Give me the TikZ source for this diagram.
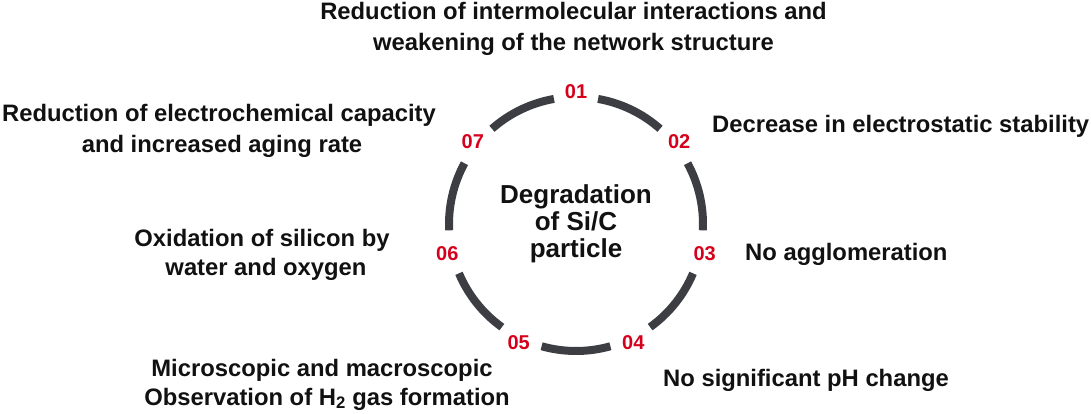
\documentclass[tikz,border=0pt]{standalone}
\usepackage{fontspec}
\setmainfont{Liberation Sans}
\definecolor{ringgray}{HTML}{3D3E43}
\definecolor{numred}{HTML}{D6001C}
\definecolor{txt}{HTML}{111111}
\tikzset{
  ring/.style={draw=ringgray, line width=8pt, line cap=butt},
  lbl/.style={inner sep=0pt, text=txt, font=\fontsize{23.8}{29}\selectfont\bfseries},
  ctr/.style={inner sep=0pt, text=txt, font=\fontsize{26}{27}\selectfont\bfseries, anchor=base},
  num/.style={inner sep=0pt, text=numred, font=\fontsize{20}{22}\selectfont\bfseries}
}
\begin{document}
\begin{tikzpicture}[x=1pt,y=-1pt]
\useasboundingbox[fill=white] (0,0) rectangle (1091,414);
\coordinate (c) at (576,224);
% ring segments
\foreach \i in {0,...,6}{
  \pgfmathsetmacro{\a}{-90+\i*360/7+10}
  \pgfmathsetmacro{\b}{-90+(\i+1)*360/7-10}
  \draw[ring] (c) ++(\a:127) arc[start angle=\a, end angle=\b, radius=127];
}
% numbers
\foreach \i in {1,...,7}{
  \pgfmathsetmacro{\t}{-90+(\i-1)*360/7}
  \node[num] (n\i) at ([shift={(\t:132)}]c) {0\i};
}
% center text
\node[ctr] (c1) at (576,203) {Degradation};
\node[ctr] (c2) at (576,230) {of Si/C};
\node[ctr] (c3) at (576,257) {particle};
% labels
\node[lbl, anchor=base] (t1a) at (573.5,19.5) {Reduction of intermolecular interactions and};
\node[lbl, anchor=base] (t1b) at (573.5,50.5) {weakening of the network structure};
\node[lbl, anchor=base west] (t2) at (712,133) {Decrease in electrostatic stability};
\node[lbl, anchor=base west] (t3) at (745,260) {No agglomeration};
\node[lbl, anchor=base] (t4) at (806,386) {No significant pH change};
\node[lbl, anchor=base] (t5a) at (322,376.7) {Microscopic and macroscopic};
\node[lbl, anchor=base] (t5b) at (327,405) {Observation of H\textsubscript{2} gas formation};
\node[lbl, anchor=base] (t6a) at (262,246.7) {Oxidation of silicon by};
\node[lbl, anchor=base] (t6b) at (266,275) {water and oxygen};
\node[lbl, anchor=base] (t7a) at (219,122) {Reduction of electrochemical capacity};
\node[lbl, anchor=base] (t7b) at (222,153) {and increased aging rate};
\end{tikzpicture}
\end{document}
